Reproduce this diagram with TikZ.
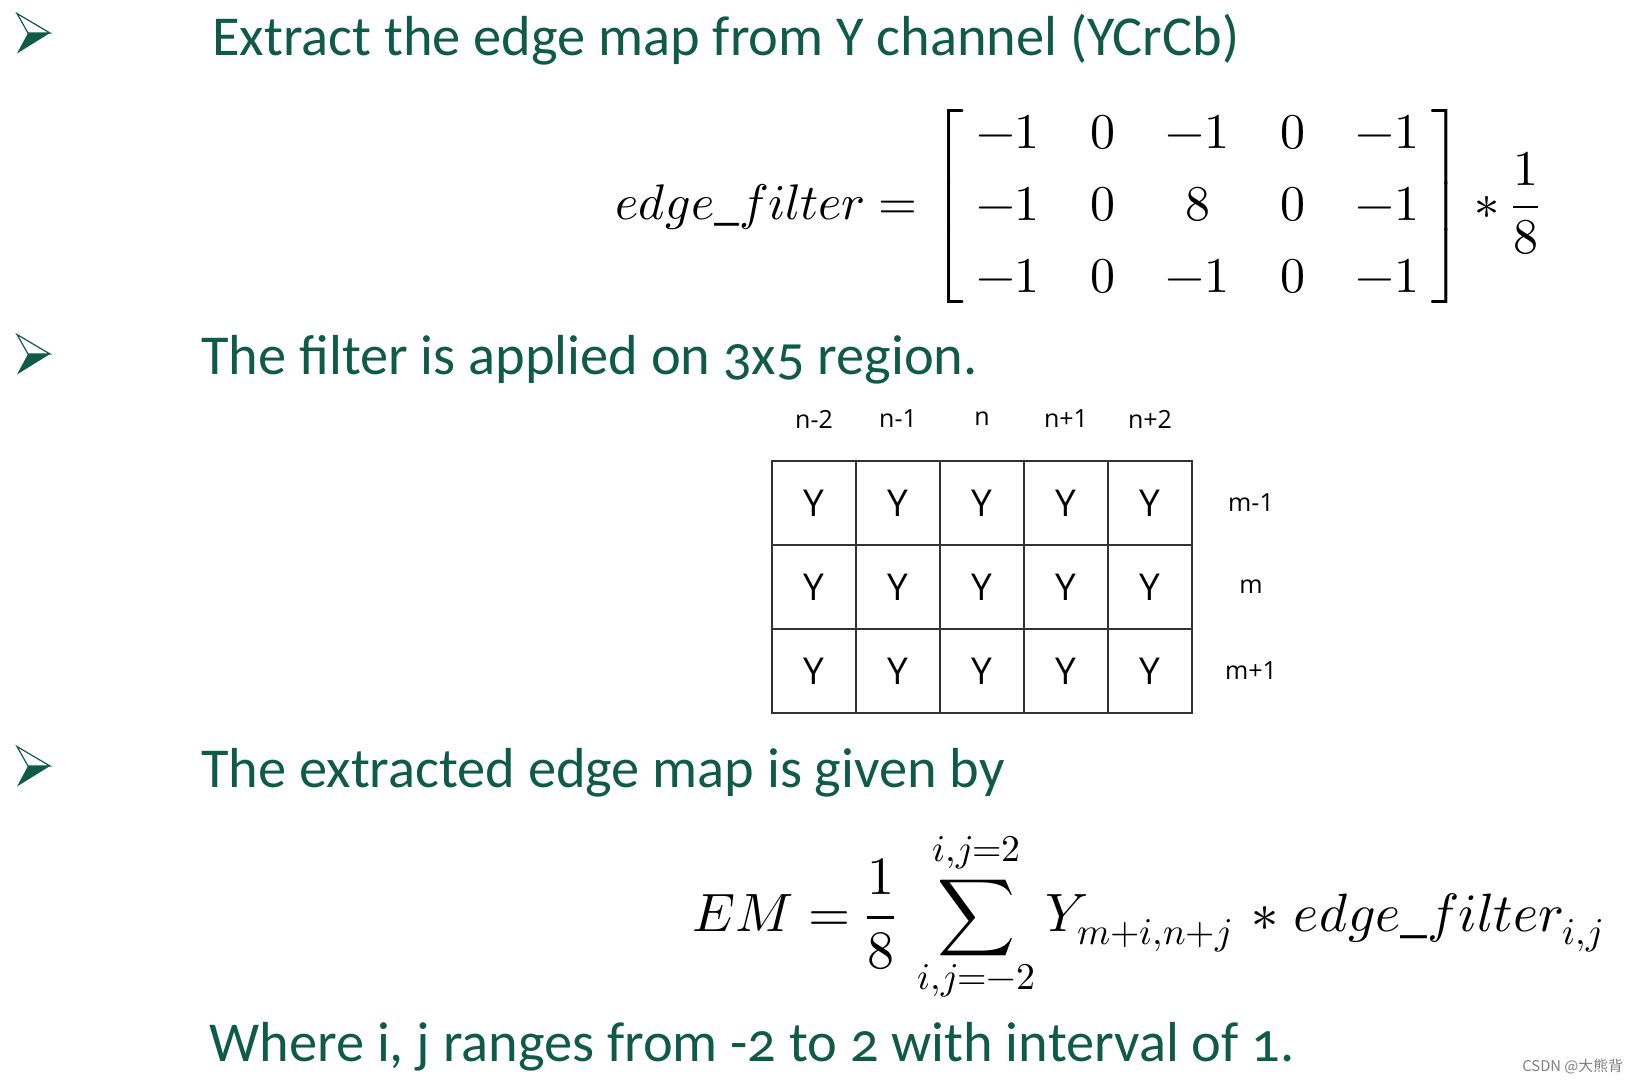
\documentclass[tikz,border=0pt]{standalone}
\usepackage{amsmath}
\usepackage{fontspec}
\usepackage{unicode-math}
\setmainfont{Carlito}[Numbers=OldStyle]
\setmathfont{Latin Modern Math}
\newfontfamily\gridfont{Open Sans}
\newfontfamily\cjkfont{Noto Sans CJK SC}
\usetikzlibrary{positioning}

\definecolor{slidegreen}{HTML}{0F5B48}
\definecolor{gridline}{HTML}{333333}

\tikzset{
  point/.style={anchor=base west,inner sep=0pt,text=slidegreen,
    font=\fontsize{28.2}{34}\selectfont},
  formula/.style={anchor=base west,inner sep=0pt,
    font=\fontsize{27}{36}\selectfont},
  cell/.style={draw=gridline,line width=1pt,minimum size=42pt,inner sep=0pt,
    font=\gridfont\fontsize{18.5}{22}\selectfont},
  index/.style={inner sep=0pt,font=\gridfont\fontsize{12.5}{15}\selectfont},
  pointer/.pic={
    \draw[slidegreen,line width=0.6pt,fill=white]
      (0,-19.5) -- (33,0) -- (11,0) -- cycle;
    \fill[slidegreen] (11,0) -- (33,0) -- (0,20.5) -- cycle;
  }
}

\begin{document}
\begin{tikzpicture}[x=0.5pt,y=-0.5pt]
  \useasboundingbox (0,0) rectangle (1636,1082);
  % bullets
  \pic at (17,33) {pointer};
  \pic at (17,354) {pointer};
  \pic at (17,766) {pointer};
  % slide text
  \node[point] (t1) at (212,55) {Extract the edge map from Y channel (YCrCb)};
  \node[point] (t2) at (201,374) {The filter is applied on 3x5 region.};
  \node[point] (t3) at (201,787) {The extracted edge map is given by};
  \node[point] (t4) at (209,1061) {Where i, j ranges from -2 to 2 with interval of 1.};
  % formulas
  \node[formula,font=\fontsize{25}{36}\selectfont] (filt) at (615,219)
    {\setlength{\arraycolsep}{12.6pt}\delimitershortfall=12pt%
    $\displaystyle edge\_filter=\left[\mkern4mu\begin{matrix}
      -1 & 0 & -1 & 0 & -1\\
      -1 & 0 & 8 & 0 & -1\\
      -1 & 0 & -1 & 0 & -1
    \end{matrix}\mkern4mu\right]*\frac{1}{8}$};
  \node[formula] (em) at (692,931)
    {$\displaystyle EM=\frac{1}{8}\mkern4mu\sum_{i,j=-2}^{i,j=2}\mkern0.5mu Y_{m+i,n+j}\mkern2.5mu*\mkern1mu edge\_filter_{i,j}$};
  % 3x5 region
  \foreach \r in {1,2,3}
    \foreach \c in {1,...,5}
      \node[cell] (c-\r-\c) at ({814+84*(\c-1)},{503+84*(\r-1)}) {Y};
  \foreach \c/\t in {1/n-2,2/n-1,3/n,4/n+1,5/n+2}
    \node[index] (col-\c) at ([yshift=42pt]c-1-\c.center) {\t};
  \foreach \r/\t in {1/m-1,2/m,3/m+1}
    \node[index] (row-\r) at ([xshift=50.5pt]c-\r-5.center) {\t};
  \node[anchor=base west,inner sep=0pt,text=gray,
    font=\cjkfont\fontsize{7.4}{9}\selectfont] (mark) at (1522,1071) {CSDN @大熊背};
\end{tikzpicture}
\end{document}
